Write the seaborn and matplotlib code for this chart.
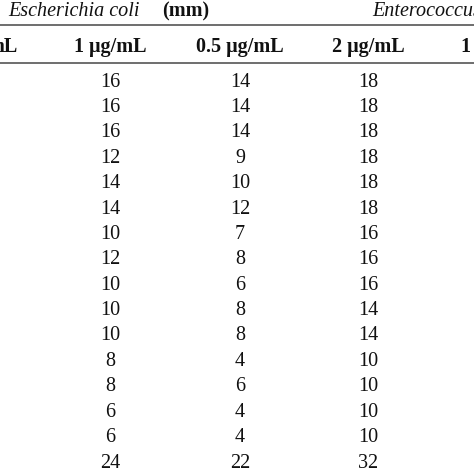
import matplotlib.pyplot as plt
import seaborn as sns

sns.set_theme(style="white")
plt.rcParams['font.family'] = ['Liberation Serif', 'DejaVu Serif']

# Inhibition zone values (mm)
ecoli_1 = [16, 16, 16, 12, 14, 14, 10, 12, 10, 10, 10, 8, 8, 6, 6, 24]
ecoli_05 = [14, 14, 14, 9, 10, 12, 7, 8, 6, 8, 8, 4, 6, 4, 4, 22]
entero_2 = [18, 18, 18, 18, 18, 18, 16, 16, 16, 14, 14, 10, 10, 10, 10, 32]
col_labels = ["1 \u03bcg/mL", "0.5 \u03bcg/mL", "2 \u03bcg/mL"]

fig = plt.figure(figsize=(4.74, 4.74), dpi=100)
ax = fig.add_axes([0, 0, 1, 1])
ax.set_xlim(0, 474)
ax.set_ylim(474, 0)
ax.axis("off")

fs = 14.5
c = "#111111"
ax.text(8, 11, "Escherichia coli", style="italic", fontsize=fs, va="center", ha="left", color=c)
ax.text(162, 11, "(mm)", weight="bold", fontsize=fs, va="center", ha="left", color=c)
ax.text(372, 11, "Enterococcus", style="italic", fontsize=fs, va="center", ha="left", color=c)
ax.text(18, 47, "mL", weight="bold", fontsize=fs, va="center", ha="right", color=c)
ax.text(460, 47, "1", weight="bold", fontsize=fs, va="center", ha="left", color=c)
ax.axhline(25, color="#555555", lw=1.2)
ax.axhline(63, color="#555555", lw=1.2)

xs = [110, 240, 368]
for x, lab, vals in zip(xs, col_labels, [ecoli_1, ecoli_05, entero_2]):
    ax.text(x, 47, lab, weight="bold", fontsize=fs, va="center", ha="center", color=c)
    for i, v in enumerate(vals):
        ax.text(x, 82 + i * 25.4, str(v), fontsize=fs, va="center", ha="center", color=c)

fig.savefig("out.png", dpi=100)
